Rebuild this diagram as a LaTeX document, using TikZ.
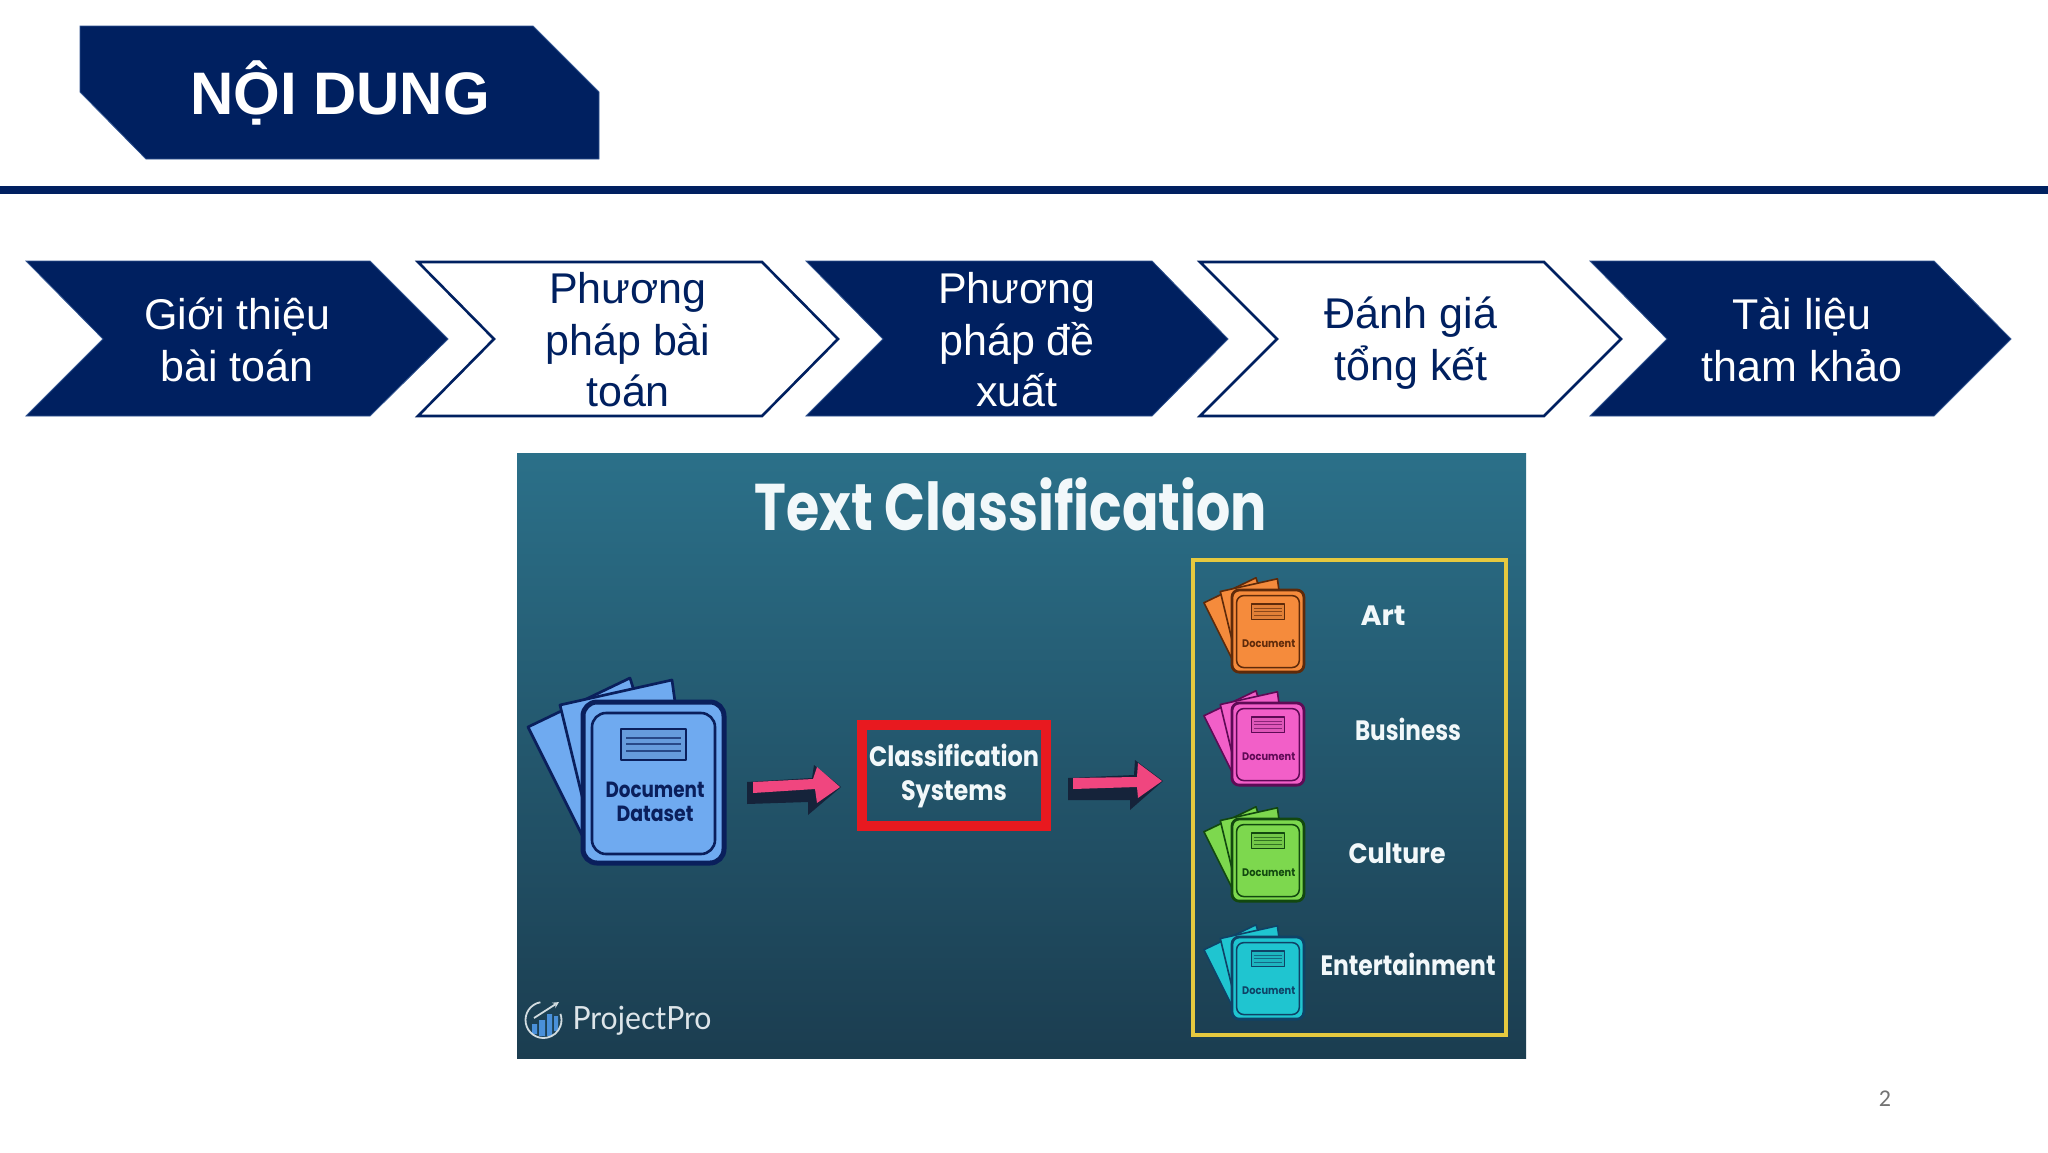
\documentclass[tikz,border=0pt]{standalone}
\usepackage{fontspec}
\setmainfont{Liberation Sans}
\newfontfamily\geo{Poppins}
\newfontfamily\calib{Carlito}
\newfontfamily\lat{Lato}
\definecolor{navy}{HTML}{002060}
\definecolor{navyedge}{HTML}{2F528F}
\definecolor{imgtop}{HTML}{2B7089}
\definecolor{imgbot}{HTML}{1B3D50}
\definecolor{pinkarrow}{HTML}{F0467F}
\definecolor{arrowshadow}{HTML}{15233A}
\definecolor{redbox}{HTML}{E8191F}
\definecolor{yellowbox}{HTML}{E6C93F}
\definecolor{inkwhite}{HTML}{F2F8FA}
\definecolor{logoblue}{HTML}{4A90D9}
\definecolor{dblue}{HTML}{6FAAF0}\definecolor{dbluek}{HTML}{0A1F5C}
\definecolor{dorange}{HTML}{F58B3C}\definecolor{dorangek}{HTML}{5E2A0A}
\definecolor{dpink}{HTML}{F25FC8}\definecolor{dpinkk}{HTML}{5E0A55}
\definecolor{dgreen}{HTML}{7DD84E}\definecolor{dgreenk}{HTML}{12480F}
\definecolor{dteal}{HTML}{1FC5D0}\definecolor{dtealk}{HTML}{0F4266}
\newcommand{\fitw}[2]{\resizebox{#1pt}{\height}{#2}}
\newcommand{\fs}[1]{\fontsize{#1}{#1}\selectfont}
% name, x, y, scale, fill, dark, text
\newcommand{\docicon}[7]{%
\begin{scope}[shift={(#2,#3)},scale=#4,line join=round]
\draw[fill=#5,draw=#6,line width=2.2pt*#4+.5pt] (-55,25) -- (47,-24) -- (52,-8) -- (20,100) -- (0,135) -- cycle;
\draw[fill=#5,draw=#6,line width=2.2pt*#4+.5pt] (-23,3) -- (89,-22) -- (92,0) -- (40,60) -- (0,98) -- cycle;
\draw[fill=#5,draw=#6,line width=4.5pt*#4+.5pt,rounded corners=14pt*#4] (0,0) rectangle (141,161);
\draw[draw=#6,line width=2.2pt*#4+.4pt,rounded corners=14pt*#4] (9,11) rectangle (132,152);
\draw[fill=#5!92!black,draw=#6,line width=2.2pt*#4+.4pt] (38,27) rectangle (103,58);
\draw[draw=#6!70!#5,line width=1.2pt*#4+.2pt] (43,36) -- (98,36) (43,42) -- (98,42) (43,49) -- (98,49);
\node[inner sep=0pt,align=center,text=#6] (#1) at (72,{100+(1-#4)*10}) {#7};
\end{scope}}
\newcommand{\smalltext}{\fs{11}\geo\bfseries\fitw{53}{Document}}
\tikzset{
 chevfill/.style={fill=navy,draw=navyedge,line width=.8pt,line join=miter},
 chevline/.style={fill=white,draw=navy,line width=2.6pt,line join=miter},
 chevtext/.style={inner sep=0pt,align=center,font=\fontsize{43}{51.5}\selectfont},
 geolabel/.style={inner sep=0pt,text=inkwhite,font=\geo\bfseries},
 arrowface/.style={fill=pinkarrow,draw=none},
 arrowback/.style={fill=arrowshadow,draw=none},
 logoline/.style={draw=inkwhite!85!imgbot,line width=1.8pt},
}
\begin{document}
\begin{tikzpicture}[x=1pt,y=-1pt]
\useasboundingbox (0,0) rectangle (2048,1152);
\fill[white] (0,0) rectangle (2048,1152);
% header
\draw[chevfill] (80,26) -- (533,26) -- (599,92) -- (599,159) -- (146,159) -- (80,92) -- cycle;
\node[inner sep=0pt,text=white,font=\bfseries\fs{60}] (head) at (340,93) {NỘI DUNG};
\fill[navy] (0,186) rectangle (2048,194);
% chevrons
\draw[chevfill] (26,261) -- (370,261) -- (448,339) -- (370,416) -- (26,416) -- (103,339) -- cycle;
\draw[chevline] (418,262) -- (762,262) -- (838,339) -- (762,416) -- (418,416) -- (494,339) -- cycle;
\draw[chevfill] (806,261) -- (1152,261) -- (1228,339) -- (1152,416) -- (806,416) -- (883,339) -- cycle;
\draw[chevline] (1200,262) -- (1544,262) -- (1621,339) -- (1544,416) -- (1200,416) -- (1277,339) -- cycle;
\draw[chevfill] (1590,261) -- (1934,261) -- (2011,339) -- (1934,416) -- (1590,416) -- (1667,339) -- cycle;
\node[chevtext,text=white] (c1) at (237,340) {Giới thiệu\\bài toán};
\node[chevtext,text=navy] (c2) at (628,340) {Phương\\pháp bài\\toán};
\node[chevtext,text=white] (c3) at (1017,340) {Phương\\pháp đề\\xuất};
\node[chevtext,text=navy] (c4) at (1411,343) {Đánh giá\\tổng kết};
\node[chevtext,text=white] (c5) at (1802,340) {Tài liệu\\tham khảo};
% image panel
\shade[top color=imgtop,bottom color=imgbot] (517,453) rectangle (1526,1058);
\node[geolabel] (title) at (1011,504) {\fitw{512}{\fs{66}Text Classification}};
% big document
\docicon{bigdoc}{583}{702}{1}{dblue}{dbluek}{\fs{22}\geo\bfseries\fitw{99}{Document}\\[8pt]\fs{22}\geo\bfseries\fitw{77}{Dataset}}
% arrows
\fill[arrowback] (747,782) -- (812,778) -- (814,765) -- (841,787) -- (808,815) -- (808,802) -- (747,804) -- cycle;
\fill[arrowface] (753,782) -- (813,779) -- (817,767) -- (840,787) -- (817,803) -- (815,789) -- (753,793) -- cycle;
\fill[arrowback] (1068,778) -- (1134,775) -- (1135,760) -- (1163,781) -- (1130,810) -- (1130,800) -- (1068,800) -- cycle;
\fill[arrowface] (1073,778) -- (1137,777) -- (1138,763) -- (1162,781) -- (1138,798) -- (1137,787) -- (1073,789) -- cycle;
% classification box
\draw[redbox,line width=10.5pt] (862,725) rectangle (1046,826);
\node[geolabel] (cs1) at (954,755) {\fitw{170}{\fs{28}Classification}};
\node[geolabel] (cs2) at (954,794) {\fitw{106}{\fs{28}Systems}};
% result box
\draw[yellowbox,line width=4.5pt] (1193,560) rectangle (1506,1035);
\docicon{d1}{1232}{590}{0.51}{dorange}{dorangek}{\smalltext}
\docicon{d2}{1232}{703}{0.51}{dpink}{dpinkk}{\smalltext}
\docicon{d3}{1232}{819}{0.51}{dgreen}{dgreenk}{\smalltext}
\docicon{d4}{1232}{937}{0.51}{dteal}{dtealk}{\smalltext}
\node[geolabel] (art) at (1383,616) {\fitw{45}{\fs{28}Art}};
\node[geolabel] (bus) at (1408,729) {\fitw{106}{\fs{28}Business}};
\node[geolabel] (cul) at (1397,853) {\fitw{97}{\fs{28}Culture}};
\node[geolabel] (ent) at (1408,964) {\fitw{175}{\fs{28}Entertainment}};
% logo
\fill[logoblue] (532,1024) rectangle (537,1034) (539,1020) rectangle (545,1036) (547,1014) rectangle (552,1036) (554,1016) rectangle (558,1031);
\draw[logoline] (543.5,1020) ++(-100:18) arc[start angle=-100,end angle=-380,radius=18];
\draw[logoline,-stealth] (534,1018) -- (559,1002);
\node[inner sep=0pt,text=inkwhite!90!imgbot,font=\lat] (pp) at (642,1021) {\fitw{139}{\fs{32}ProjectPro}};
% page number
\node[inner sep=0pt,text=black!55,font=\calib\fs{24}] (pg) at (1885,1099) {2};
\end{tikzpicture}
\end{document}
